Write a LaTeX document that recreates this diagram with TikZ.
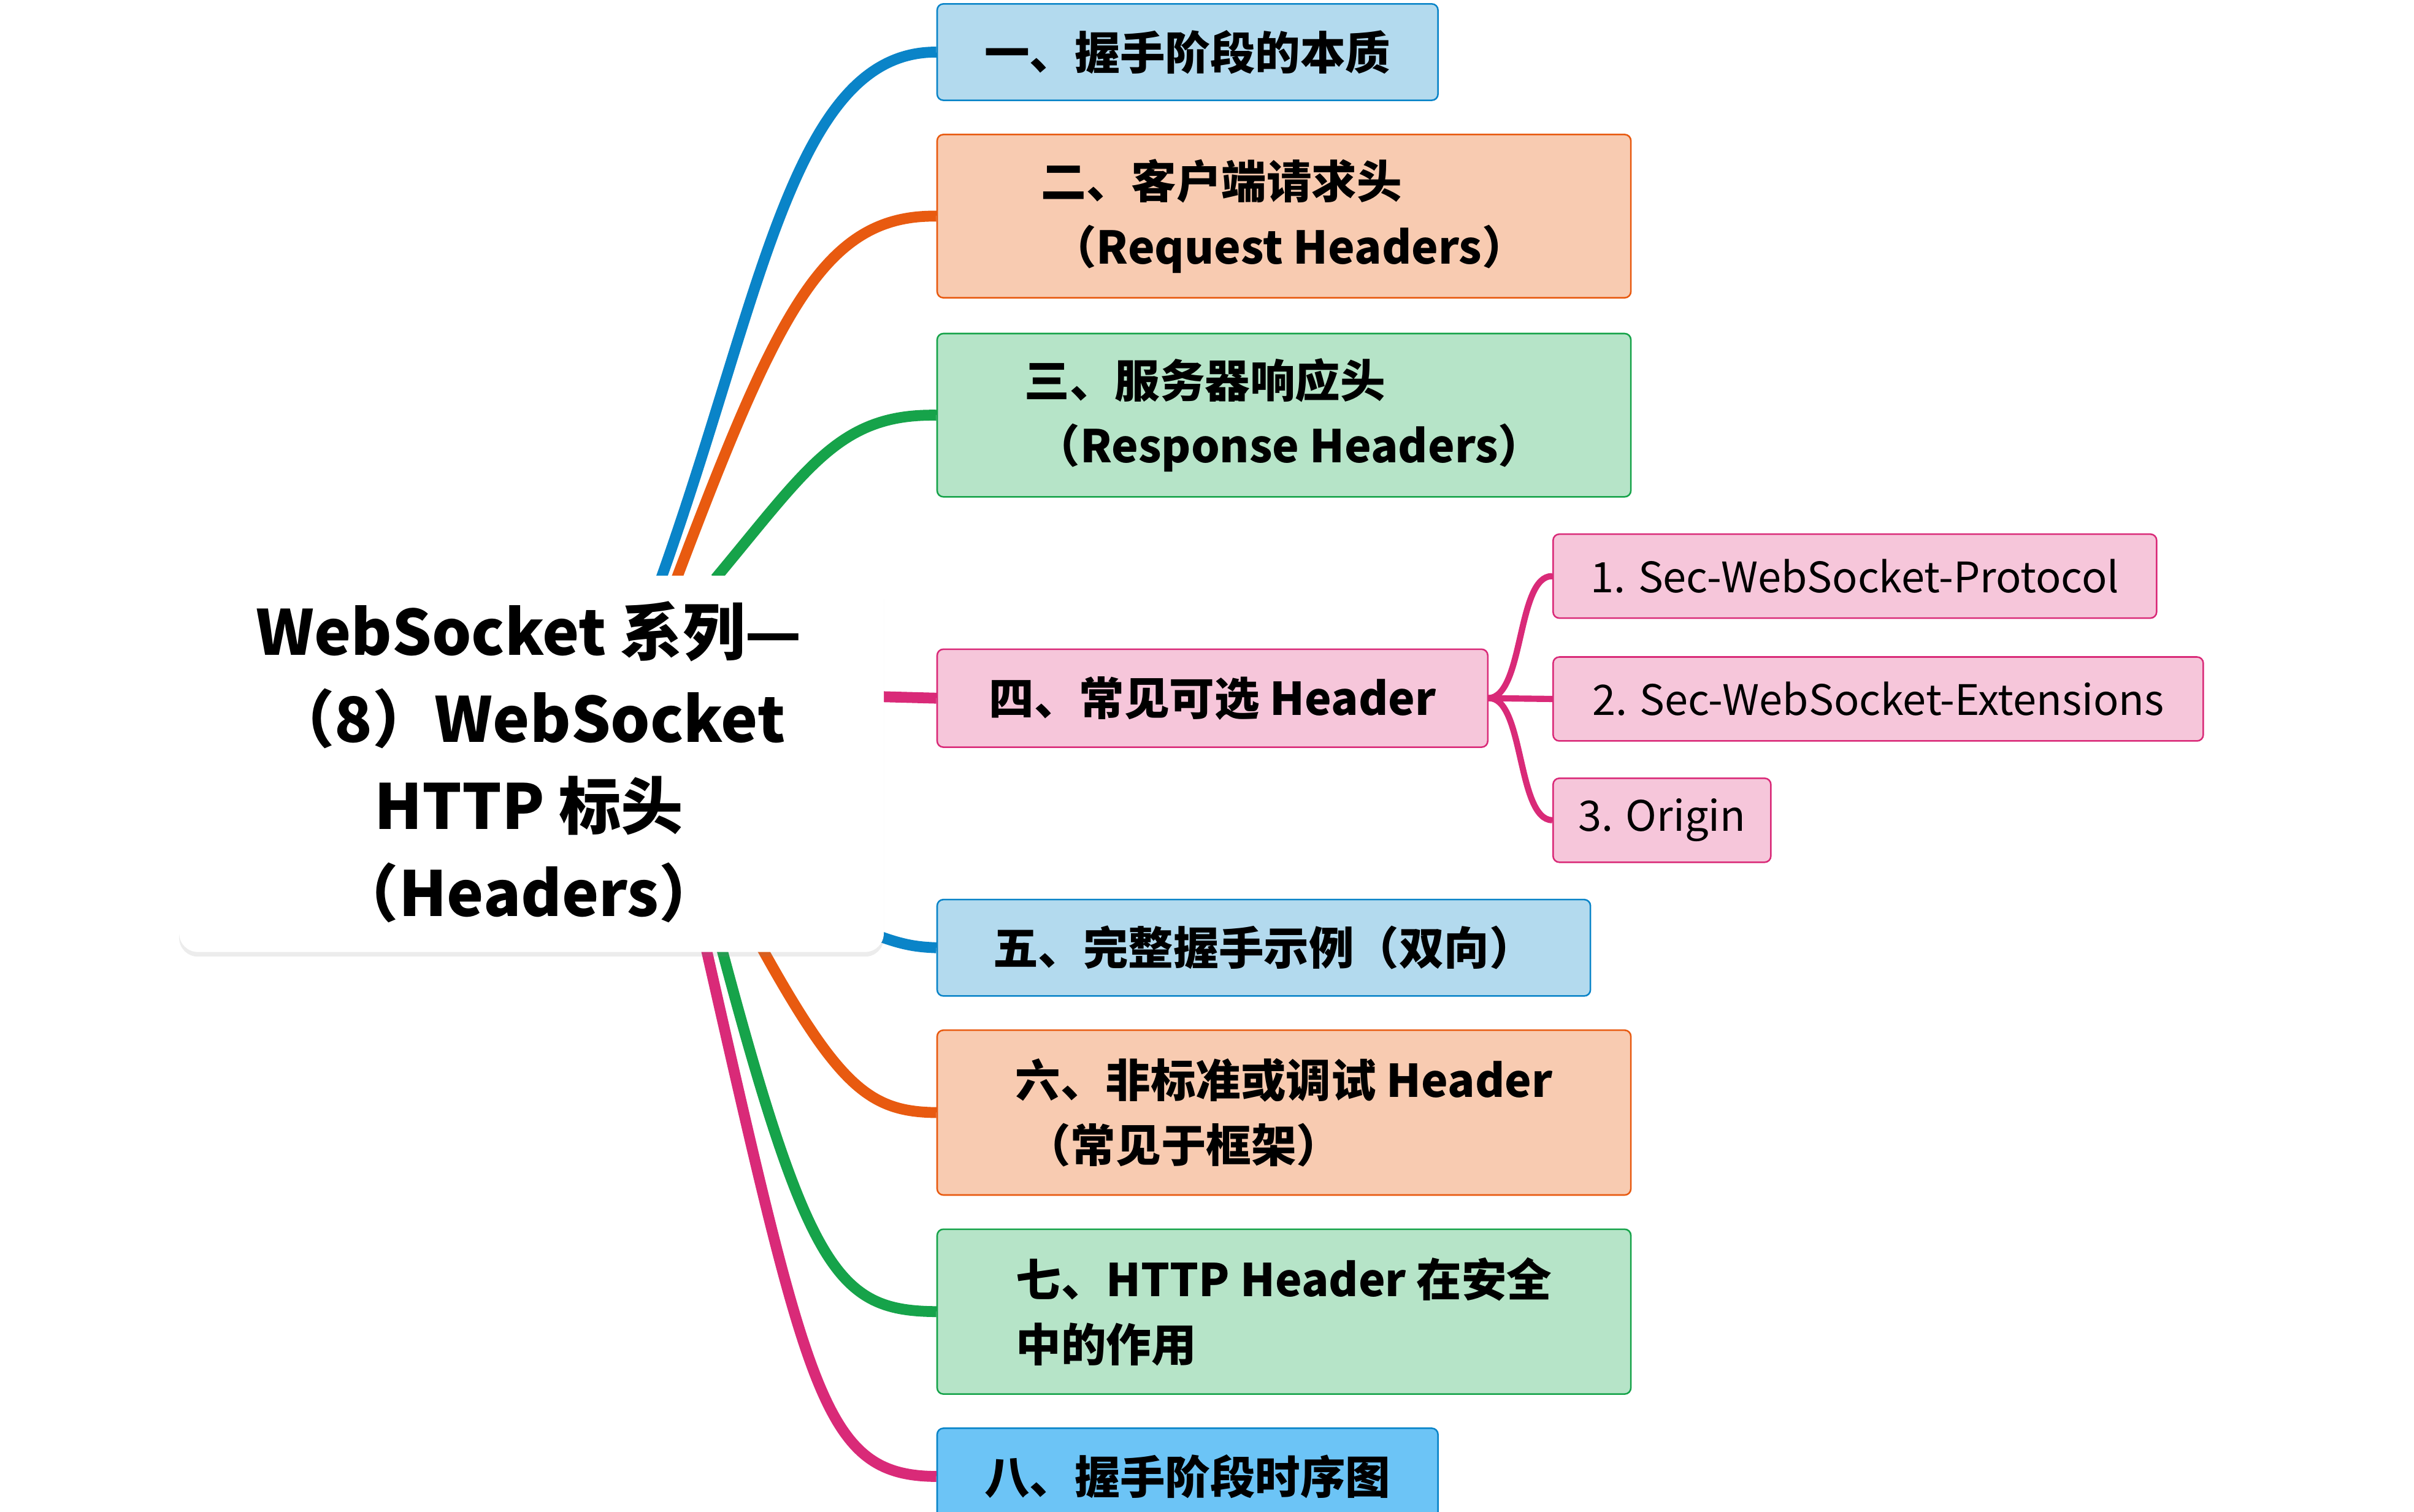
\documentclass[tikz,border=0pt]{standalone}
\usepackage{fontspec}
\setmainfont{Noto Sans CJK SC}
\usetikzlibrary{shadows}
\definecolor{lb}{HTML}{0A84C8}\definecolor{lo}{HTML}{E85A10}\definecolor{lg}{HTML}{16A34A}\definecolor{lp}{HTML}{D92A78}
\definecolor{fb}{HTML}{B3DAEE}\definecolor{fo}{HTML}{F8CBB1}\definecolor{fg}{HTML}{B6E4C8}\definecolor{fp}{HTML}{F6C6DA}\definecolor{fb2}{HTML}{6CC4F6}
\begin{document}
\begin{tikzpicture}[x=1pt,y=-1pt,
 br/.style={anchor=north west,rectangle,rounded corners=4pt,line width=1pt,inner xsep=10pt,align=left,font=\bfseries\fontsize{29}{42}\selectfont},
 sb/.style={anchor=north west,rectangle,rounded corners=4pt,line width=1pt,draw=lp,fill=fp,inner xsep=8pt,align=left,font=\fontsize{27}{32}\selectfont,minimum height=54pt},
 ln/.style={line width=7pt},
 sl/.style={line width=4pt,draw=lp}]
\useasboundingbox (0,0) rectangle (1552,972);
\coordinate (r1) at (425,372);\coordinate (r2) at (435,372);\coordinate (r3) at (460,372);
\coordinate (r5) at (560,600);\coordinate (r6) at (490,610);\coordinate (r7) at (464,610);\coordinate (r8) at (454,610);\coordinate (r4) at (566,448);
\node[br,draw=lb,fill=fb,minimum width=322pt,minimum height=62pt] (b1) at (602,2) {一、握手阶段的本质};
\node[br,draw=lo,fill=fo,minimum width=446pt,minimum height=105pt] (b2) at (602,86) {二、客户端请求头\\\ （Request Headers）};
\node[br,draw=lg,fill=fg,minimum width=446pt,minimum height=105pt] (b3) at (602,214) {三、服务器响应头\\\ （Response Headers）};
\node[br,draw=lp,fill=fp,minimum width=354pt,minimum height=63pt] (b4) at (602,417) {四、常见可选 Header};
\node[br,draw=lb,fill=fb,minimum width=420pt,minimum height=62pt] (b5) at (602,578) {五、完整握手示例（双向）};
\node[br,draw=lo,fill=fo,minimum width=446pt,minimum height=106pt] (b6) at (602,662) {六、非标准或调试 Header\\\ （常见于框架）};
\node[br,draw=lg,fill=fg,minimum width=446pt,minimum height=106pt] (b7) at (602,790) {七、HTTP Header 在安全\\中的作用};
\node[br,draw=lb,fill=fb2,minimum width=322pt,minimum height=62pt] (b8) at (602,918) {八、握手阶段时序图};
\node[sb,minimum width=388pt] (s1) at (998,343) {1. Sec-WebSocket-Protocol};
\node[sb,minimum width=418pt] (s2) at (998,422) {2. Sec-WebSocket-Extensions};
\node[sb,minimum width=140pt] (s3) at (998,500) {3. Origin};
\begin{scope}[on background layer/.style={}]
\draw[ln,lb] (r1) .. controls (490,190) and (510,33) .. (b1.west);
\draw[ln,lo] (r2) .. controls (500,200) and (530,138) .. (b2.west);
\draw[ln,lg] (r3) .. controls (520,300) and (540,266) .. (b3.west);
\draw[ln,lp] (r4) -- (b4.west);
\draw[ln,lb] (r5) .. controls (580,608) and (590,609) .. (b5.west);
\draw[ln,lo] (r6) .. controls (540,700) and (560,715) .. (b6.west);
\draw[ln,lg] (r7) .. controls (520,820) and (540,843) .. (b7.west);
\draw[ln,lp] (r8) .. controls (520,900) and (530,949) .. (b8.west);
\draw[sl] (b4.east) .. controls (980,448) and (975,370) .. (s1.west);
\draw[sl] (b4.east) -- (s2.west);
\draw[sl] (b4.east) .. controls (980,448) and (975,527) .. (s3.west);
\end{scope}
\node[fill=white,rounded corners=12pt,minimum width=453pt,minimum height=242pt,anchor=north west,drop shadow={opacity=0.15,shadow xshift=0pt,shadow yshift=-3pt}] (root) at (115,370) {};
\node[align=center,font=\bfseries\fontsize{40}{56}\selectfont] (rt) at (340,490) {WebSocket 系列—\\（8）WebSocket\\HTTP 标头\\（Headers）};
\end{tikzpicture}
\end{document}
